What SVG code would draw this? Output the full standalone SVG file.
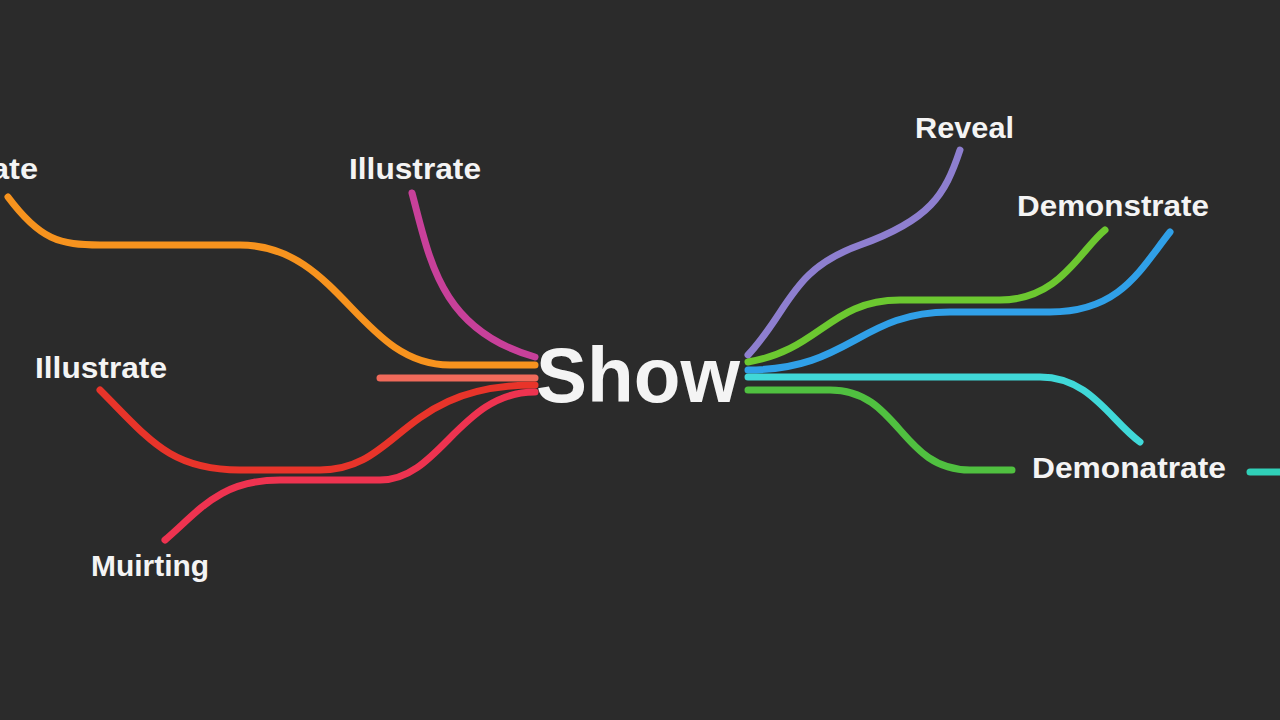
<svg xmlns="http://www.w3.org/2000/svg" width="1280" height="720" viewBox="0 0 1280 720">
<style>
.c{fill:none;stroke-width:7;stroke-linecap:round}
.t{font-family:"Liberation Sans",Arial,sans-serif;font-weight:bold;fill:#f4f4f4;font-size:29px}
</style>
<rect width="1280" height="720" fill="#2b2b2b"/>
<g id="connectors">
<path class="c" stroke="#f7931e" d="M8,197 C40,240 60,245 100,245 L240,245 C340,245 360,365 450,365 L535,365"/>
<path class="c" stroke="#c8409a" d="M412,193 C430,260 440,330 535,357"/>
<path class="c" stroke="#f06a5a" d="M380,378 L535,378"/>
<path class="c" stroke="#e8342a" d="M100,390 C150,440 170,470 240,470 L320,470 C400,470 400,385 535,385"/>
<path class="c" stroke="#ee3350" d="M165,540 C200,510 220,480 280,480 L380,480 C440,480 460,392 535,392"/>
<path class="c" stroke="#8e7fd0" d="M748,355 C790,310 790,270 860,245 C930,220 945,195 960,150"/>
<path class="c" stroke="#6cc830" d="M748,362 C820,350 830,300 900,300 L1000,300 C1060,300 1080,250 1105,230"/>
<path class="c" stroke="#30a0e8" d="M748,370 C850,370 860,312 950,312 L1050,312 C1120,312 1140,270 1170,232"/>
<path class="c" stroke="#40d8d8" d="M748,377 L1040,377 C1090,377 1110,420 1140,442"/>
<path class="c" stroke="#50c040" d="M748,390 L830,390 C900,390 900,470 970,470 L1012,470"/>
<path class="c" stroke="#30d0b8" d="M1250,472 L1280,472"/>
</g>
<g id="show"><text class="t" x="536" y="402" style="font-size:78px" textLength="204" lengthAdjust="spacingAndGlyphs">Show</text></g>
<g id="n1"><text class="t" x="-9" y="179" textLength="47" lengthAdjust="spacingAndGlyphs">ate</text></g>
<g id="n2"><text class="t" x="349" y="179" textLength="132" lengthAdjust="spacingAndGlyphs">Illustrate</text></g>
<g id="n3"><text class="t" x="35" y="378" textLength="132" lengthAdjust="spacingAndGlyphs">Illustrate</text></g>
<g id="n4"><text class="t" x="91" y="576" textLength="118" lengthAdjust="spacingAndGlyphs">Muirting</text></g>
<g id="n5"><text class="t" x="915" y="138" textLength="99" lengthAdjust="spacingAndGlyphs">Reveal</text></g>
<g id="n6"><text class="t" x="1017" y="216" textLength="192" lengthAdjust="spacingAndGlyphs">Demonstrate</text></g>
<g id="n7"><text class="t" x="1032" y="478" textLength="194" lengthAdjust="spacingAndGlyphs">Demonatrate</text></g>
</svg>
